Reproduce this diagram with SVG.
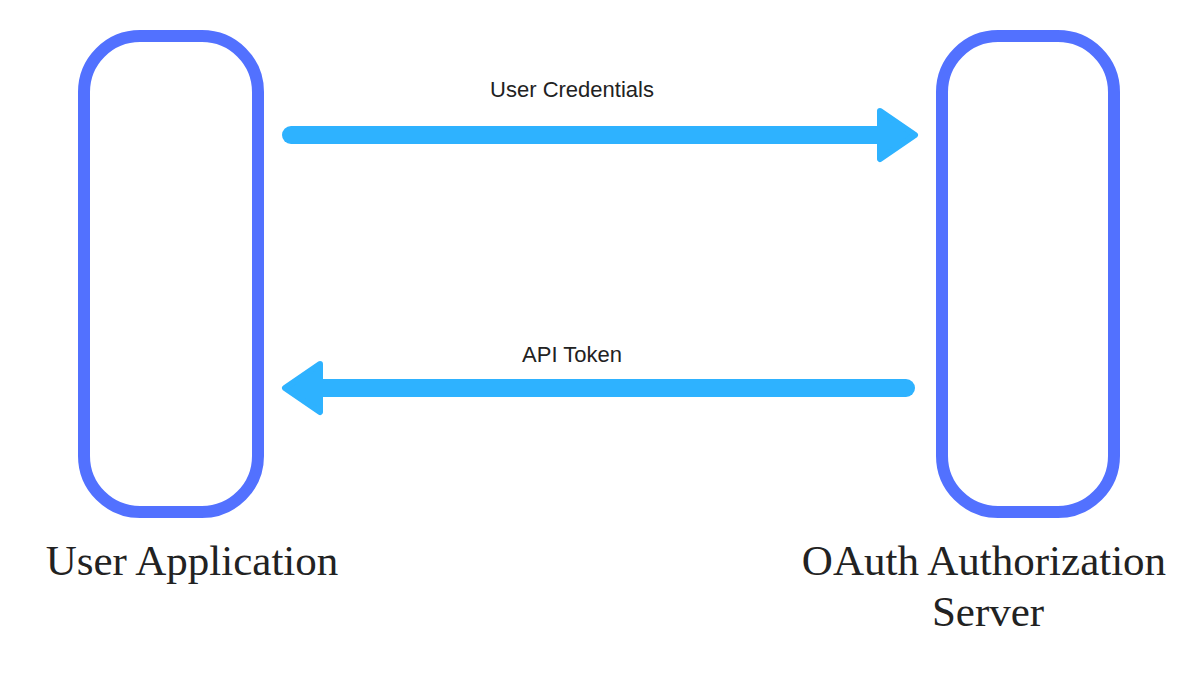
<svg xmlns="http://www.w3.org/2000/svg" width="1200" height="675" viewBox="0 0 1200 675">
<style>
.box{fill:none;stroke:#5271ff;stroke-width:12}
.ln{stroke:#2eb2ff;stroke-width:18;stroke-linecap:round;fill:none}
.hd{fill:#2eb2ff;stroke:#2eb2ff;stroke-width:6;stroke-linejoin:round}
.lbl{font-family:"Liberation Sans",Arial,sans-serif;font-size:22px;fill:#222;text-anchor:middle}
.nm{font-family:"Liberation Serif","Times New Roman",serif;font-size:43px;fill:#222;text-anchor:middle}
</style>
<rect width="1200" height="675" fill="#fff"/>
<g id="user-app"><rect class="box" x="84" y="36" width="174" height="476" rx="56"/><text class="nm" x="192" y="575">User Application</text></g>
<g id="oauth-server"><rect class="box" x="942" y="36" width="172" height="476" rx="56"/><text class="nm" x="984" y="575">OAuth Authorization</text><text class="nm" x="988" y="626">Server</text></g>
<g id="connectors">
<line class="ln" x1="291" y1="135" x2="880" y2="135"/><polygon class="hd" points="880,111 915,135 880,159"/>
<text class="lbl" x="572" y="97">User Credentials</text>
<line class="ln" x1="906" y1="388" x2="320" y2="388"/><polygon class="hd" points="320,364 285,388 320,412"/>
<text class="lbl" x="572" y="362">API Token</text>
</g>
</svg>
